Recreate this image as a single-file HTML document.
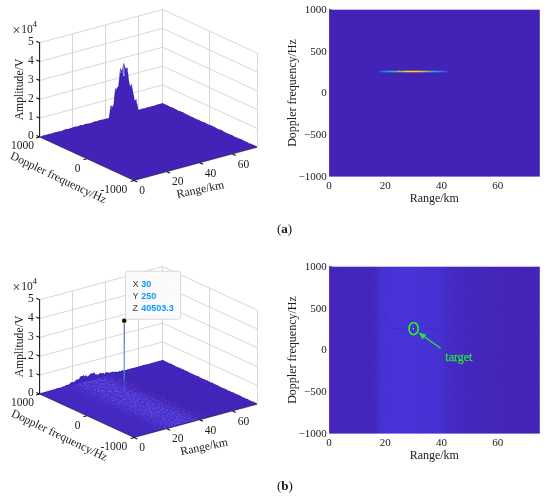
<!DOCTYPE html>
<html><head><meta charset="utf-8"><title>Figure</title>
<style>html,body{margin:0;padding:0;background:#fff}svg{display:block}text{font-family:"Liberation Serif","Times New Roman",serif}.ss text{font-family:"Liberation Sans",Arial,sans-serif}</style>
</head><body>
<svg width="550" height="500" viewBox="0 0 550 500">
<rect width="550" height="500" fill="#fff"/>
<defs>
<linearGradient id="ln" x1="0" x2="1" y1="0" y2="0">
<stop offset="0" stop-color="#3c50e0"/><stop offset="0.05" stop-color="#2a6ae8"/><stop offset="0.11" stop-color="#2090e0"/><stop offset="0.17" stop-color="#1fb0d0"/><stop offset="0.26" stop-color="#30c0b0"/><stop offset="0.285" stop-color="#c8b840"/><stop offset="0.3" stop-color="#f0a838"/><stop offset="0.325" stop-color="#70c878"/><stop offset="0.345" stop-color="#80c868"/><stop offset="0.37" stop-color="#f6cc2c"/><stop offset="0.5" stop-color="#fbd826"/><stop offset="0.63" stop-color="#f6c42e"/><stop offset="0.66" stop-color="#70c878"/><stop offset="0.685" stop-color="#c0b848"/><stop offset="0.705" stop-color="#f0a838"/><stop offset="0.73" stop-color="#40c0a0"/><stop offset="0.8" stop-color="#1fb0d0"/><stop offset="0.87" stop-color="#2090e0"/><stop offset="0.95" stop-color="#2a6ae8"/><stop offset="1" stop-color="#3c50e0"/>
</linearGradient>
<linearGradient id="bg2" x1="0" x2="1" y1="0" y2="0">
<stop offset="0" stop-color="#4224ba"/><stop offset="0.2" stop-color="#4225bb"/><stop offset="0.225" stop-color="#4328c0"/><stop offset="0.245" stop-color="#4530d0"/><stop offset="0.3" stop-color="#4632d7"/><stop offset="0.42" stop-color="#4631d5"/><stop offset="0.52" stop-color="#452fd0"/><stop offset="0.56" stop-color="#442bc7"/><stop offset="0.61" stop-color="#4327be"/><stop offset="0.75" stop-color="#4324b9"/><stop offset="1" stop-color="#4322b6"/>
</linearGradient>
<linearGradient id="fl" x1="0" x2="0" y1="0" y2="1"><stop offset="0" stop-color="#4324ba"/><stop offset="1" stop-color="#4122b4"/></linearGradient>
<linearGradient id="band" gradientUnits="userSpaceOnUse" x1="134.1" y1="180.5" x2="168.22" y2="106.39">
<stop offset="0" stop-color="#4630d6" stop-opacity="0.28"/><stop offset="0.2" stop-color="#4630d6" stop-opacity="0.3"/><stop offset="0.27" stop-color="#4630d6" stop-opacity="0.42"/><stop offset="0.34" stop-color="#4630d6" stop-opacity="0.72"/><stop offset="0.46" stop-color="#4630d6" stop-opacity="0.72"/><stop offset="0.52" stop-color="#4630d6" stop-opacity="0.3"/><stop offset="0.56" stop-color="#3a1ea8" stop-opacity="0.35"/><stop offset="0.64" stop-color="#3a1ea8" stop-opacity="0.4"/><stop offset="0.72" stop-color="#3a1ea8" stop-opacity="0.1"/><stop offset="0.8" stop-color="#4630d6" stop-opacity="0.05"/><stop offset="1" stop-color="#4630d6" stop-opacity="0.05"/>
</linearGradient>
<linearGradient id="bandm" gradientUnits="userSpaceOnUse" x1="134.1" y1="180.5" x2="168.22" y2="106.39">
<stop offset="0" stop-color="#222"/><stop offset="0.22" stop-color="#333"/><stop offset="0.33" stop-color="#fff"/><stop offset="0.48" stop-color="#fff"/><stop offset="0.63" stop-color="#444"/><stop offset="0.8" stop-color="#111"/><stop offset="1" stop-color="#111"/>
</linearGradient>
<mask id="bm" maskUnits="userSpaceOnUse" x="0" y="80" width="275" height="120"><polygon points="39.6,137 162.6,103.8 257.1,147.3 134.1,180.5" fill="url(#bandm)"/></mask>
<filter id="nz3" x="0" y="0" width="1" height="1"><feTurbulence type="fractalNoise" baseFrequency="0.55 0.9" numOctaves="2" seed="11"/><feColorMatrix type="matrix" values="0 0 0 0 0.34  0 0 0 0 0.28  0 0 0 0 0.95  0.9 0 0 0 -0.33"/><feGaussianBlur stdDeviation="0.45"/></filter>
<linearGradient id="spk" x1="0" x2="0" y1="0" y2="1"><stop offset="0" stop-color="#5a45d6"/><stop offset="0.35" stop-color="#5566dd"/><stop offset="0.65" stop-color="#4a86e2"/><stop offset="0.88" stop-color="#2ea6d8"/><stop offset="1" stop-color="#3f6fd8"/></linearGradient>
<filter id="nz" x="0" y="0" width="1" height="1"><feTurbulence type="fractalNoise" baseFrequency="0.9" numOctaves="2" seed="3" result="t"/><feColorMatrix type="matrix" values="0 0 0 0 0.32  0 0 0 0 0.25  0 0 0 0 0.95  0.55 0 0 0 -0.22"/></filter>
</defs>
<g transform="translate(0,0)">
<g fill="none" stroke="#cdcdcd" stroke-width="0.8"><polyline points="39.6,137 162.6,103.8 257.1,147.3"/><polyline points="39.6,118.15 162.6,84.95 257.1,128.45"/><polyline points="39.6,99.3 162.6,66.1 257.1,109.6"/><polyline points="39.6,80.45 162.6,47.25 257.1,90.75"/><polyline points="39.6,61.6 162.6,28.4 257.1,71.9"/><polyline points="39.6,42.75 162.6,9.55 257.1,53.05"/><line x1="72.5" y1="128.15" x2="72.5" y2="33.9"/><line x1="105.5" y1="119.29" x2="105.5" y2="25.04"/><line x1="138.5" y1="110.44" x2="138.5" y2="16.19"/><line x1="162.5" y1="103.8" x2="162.5" y2="9.55"/><line x1="209.5" y1="125.55" x2="209.5" y2="31.3"/><line x1="257.5" y1="147.3" x2="257.5" y2="53.05"/></g>
<polygon points="39.6,137 39.6,136.57 41.65,136.14 43.7,135.24 45.75,135.09 47.8,134.21 49.85,133.78 51.9,133.44 53.95,132.57 56,132.35 58.05,131.52 60.1,131.22 62.15,130.65 64.2,129.86 66.25,129.03 68.3,128.97 70.35,128.34 72.4,127.51 74.45,126.73 76.5,126.44 78.55,126.01 80.6,125.05 82.65,125.15 84.7,124.03 86.75,123.87 88.8,123.42 90.85,122.88 92.9,122.2 94.95,121.29 97,121.18 99.05,120.35 101.1,119.75 103.15,119.39 105.2,118.71 107.25,118.5 109.3,117.94 111.35,117.29 113.4,116.4 115.45,116.03 117.5,115.55 119.55,114.81 121.6,114.35 123.65,113.9 125.7,113 127.75,112.52 129.8,112.28 131.85,111.5 133.9,110.98 135.95,110.18 138,109.73 140.05,109.49 142.1,108.45 144.15,108.5 146.2,107.73 148.25,106.94 150.3,106.81 152.35,106.02 154.4,105.79 156.45,104.79 158.5,104.17 160.55,103.75 162.6,102.99 164.18,104.11 165.75,104.56 167.33,105.36 168.9,106.09 170.48,106.91 172.05,107.36 173.63,108.01 175.2,109.07 176.78,109.66 178.35,110.81 179.93,111.08 181.5,111.85 183.08,112.33 184.65,113.17 186.23,114.28 187.8,114.93 189.38,115.46 190.95,116.63 192.53,117.05 194.1,117.98 195.68,118.74 197.25,119.51 198.83,119.74 200.4,120.91 201.98,121.55 203.55,122.18 205.13,122.57 206.7,123.84 208.28,124.31 209.85,124.97 211.43,125.46 213,126.23 214.58,126.92 216.15,128.06 217.73,128.68 219.3,129.45 220.88,129.81 222.45,130.48 224.03,131.77 225.6,132.48 227.18,133.16 228.75,133.89 230.33,134.44 231.9,135.09 233.48,136.04 235.05,136.95 236.63,137.38 238.2,138.14 239.78,138.73 241.35,139.18 242.93,140.09 244.5,140.94 246.08,141.59 247.65,142.28 249.23,143.44 250.8,143.57 252.38,144.38 253.95,145.04 255.53,145.82 257.1,146.83 257.1,147.3 134.1,180.5" fill="#4323b7"/>
<polygon points="108.8,118.6 109.7,112.1 110.4,106.3 111,105.2 111.7,106.2 112.3,106.9 113.6,104.4 114.5,94 115.3,88.1 116.2,89.6 117.1,87.5 118.2,86.8 119.2,78.4 120.1,68.6 120.5,68 121.4,70.8 122.3,69.3 123.1,64.7 123.8,62.8 124.7,65.4 126,68.8 127.3,67.3 127.9,70.6 128.8,79.7 130.1,86.2 131.8,83.8 132.5,88.8 133.5,94 134.8,100.4 136.4,99.2 137.4,104.4 138.3,109.5 138.3,128 108.8,128" fill="#4323b7"/>
<polygon points="123.0,76 123.8,62.6 124.6,76" fill="#b2abe6"/>
<polygon points="122.6,70 123.8,63.2 125,70" fill="#8f86d8" opacity="0.7"/>
<polygon points="119.9,73 120.5,68 121.1,73" fill="#7a78d8"/>
<polygon points="126.7,72.3 127.3,67.3 127.9,72.3" fill="#7a78d8"/>
<polygon points="114.7,92.1 115.3,88.1 115.9,92.1" fill="#7a78d8"/>
<polygon points="131.2,87.8 131.8,83.8 132.4,87.8" fill="#7a78d8"/>
<polygon points="110.4,109.2 111,105.2 111.6,109.2" fill="#7a78d8"/>
<polygon points="135.8,103.2 136.4,99.2 137,103.2" fill="#7a78d8"/>
<polygon points="121.7,73.3 122.3,69.3 122.9,73.3" fill="#7a78d8"/>
<g fill="none" stroke="#111" stroke-width="1.05"><polyline points="39.6,42.75 39.6,137"/><polyline points="39.6,137 134.1,180.5 257.1,147.3" stroke-width="0.55"/><line x1="39.6" y1="137" x2="36.33" y2="135.49"/><line x1="39.6" y1="118.15" x2="36.33" y2="116.64"/><line x1="39.6" y1="99.3" x2="36.33" y2="97.79"/><line x1="39.6" y1="80.45" x2="36.33" y2="78.94"/><line x1="39.6" y1="61.6" x2="36.33" y2="60.09"/><line x1="39.6" y1="42.75" x2="36.33" y2="41.24"/><line x1="39.6" y1="137" x2="36.12" y2="137.94"/><line x1="86.85" y1="158.75" x2="83.37" y2="159.69"/><line x1="134.1" y1="180.5" x2="130.62" y2="181.44"/><line x1="134.1" y1="180.5" x2="137.37" y2="182.01"/><line x1="166.9" y1="171.65" x2="170.17" y2="173.15"/><line x1="199.7" y1="162.79" x2="202.97" y2="164.3"/><line x1="232.5" y1="153.94" x2="235.77" y2="155.45"/></g>
<g font-size="11.5" fill="#202020"><text x="33.7" y="139.2" text-anchor="end">0</text><text x="33.7" y="120.35" text-anchor="end">1</text><text x="33.7" y="101.5" text-anchor="end">2</text><text x="33.7" y="82.65" text-anchor="end">3</text><text x="33.7" y="63.8" text-anchor="end">4</text><text x="33.7" y="44.95" text-anchor="end">5</text><text x="12.6" y="35" font-size="14">×</text><text x="21.3" y="32.6">10</text><text x="32.4" y="27.3" font-size="9">4</text><text x="22.6" y="149.3" text-anchor="middle">1000</text><text x="77.6" y="171.5" text-anchor="middle">0</text><text x="127.3" y="192.7" text-anchor="end">-1000</text><text x="142.2" y="193.8" text-anchor="middle">0</text><text x="177.8" y="185.4" text-anchor="middle">20</text><text x="210.4" y="176.8" text-anchor="middle">40</text><text x="243.4" y="167.8" text-anchor="middle">60</text></g>
<g font-size="11.7" fill="#202020"><text transform="translate(23,89.5) rotate(-90)" text-anchor="middle">Amplitude/V</text><text transform="translate(56.9,180.9) rotate(25.5)" text-anchor="middle">Doppler frequency/Hz</text><text transform="translate(201.1,193) rotate(-12)" text-anchor="middle">Range/km</text></g>
</g>
<g transform="translate(0,0)">
<rect x="329.1" y="9.7" width="210.7" height="166.9" fill="#4323b7"/>
<rect x="379" y="70.7" width="68.2" height="1.6" fill="url(#ln)"/>
<line x1="329.1" y1="9.4" x2="331.6" y2="9.4" stroke="#222" stroke-width="0.7"/>
<g font-size="11" fill="#202020"><text x="326.8" y="12.9" text-anchor="end">1000</text><text x="326.8" y="54.62" text-anchor="end">500</text><text x="326.8" y="96.35" text-anchor="end">0</text><text x="326.8" y="138.07" text-anchor="end">−500</text><text x="326.8" y="179.8" text-anchor="end">−1000</text><text x="329.1" y="189" text-anchor="middle">0</text><text x="385.29" y="189" text-anchor="middle">20</text><text x="441.47" y="189" text-anchor="middle">40</text><text x="497.66" y="189" text-anchor="middle">60</text></g>
<g font-size="12" fill="#202020"><text x="434.3" y="202.2" text-anchor="middle">Range/km</text><text transform="translate(296.3,93) rotate(-90)" text-anchor="middle">Doppler frequency/Hz</text></g>
<text x="277" y="233" font-size="13" fill="#111">(<tspan font-weight="bold">a</tspan>)</text>
</g>
<g transform="translate(0,257)">
<g fill="none" stroke="#cdcdcd" stroke-width="0.8"><polyline points="39.6,137 162.6,103.8 257.1,147.3"/><polyline points="39.6,118.15 162.6,84.95 257.1,128.45"/><polyline points="39.6,99.3 162.6,66.1 257.1,109.6"/><polyline points="39.6,80.45 162.6,47.25 257.1,90.75"/><polyline points="39.6,61.6 162.6,28.4 257.1,71.9"/><polyline points="39.6,42.75 162.6,9.55 257.1,53.05"/><line x1="72.5" y1="128.15" x2="72.5" y2="33.9"/><line x1="105.5" y1="119.29" x2="105.5" y2="25.04"/><line x1="138.5" y1="110.44" x2="138.5" y2="16.19"/><line x1="162.5" y1="103.8" x2="162.5" y2="9.55"/><line x1="209.5" y1="125.55" x2="209.5" y2="31.3"/><line x1="257.5" y1="147.3" x2="257.5" y2="53.05"/></g>
<polygon points="39.6,137 39.6,136.22 40.42,136.12 41.24,135.68 42.06,135.7 42.88,135.47 43.7,135.19 44.52,134.99 45.34,134.69 46.16,134.59 46.98,134.4 47.8,134.11 48.62,133.9 49.44,133.57 50.26,133.49 51.08,132.9 51.9,132.79 52.72,132.76 53.54,132.49 54.36,132.22 55.18,131.98 56,131.86 56.82,131.29 57.64,130.97 58.46,130.98 59.28,130.72 60.1,130.67 60.92,130.41 61.74,130.01 62.56,129.78 63.38,129.14 64.2,129.28 65.02,129.08 65.84,128.07 66.66,128.06 67.48,128.05 68.3,127.32 69.12,127.48 69.94,126.56 70.76,125.59 71.58,125.27 72.4,125.03 73.22,125.25 74.04,124.64 74.86,124.55 75.68,122.93 76.5,122.92 77.32,121.88 78.14,122.43 78.96,122.24 79.78,120.28 80.6,119.32 81.42,119.21 82.24,118.9 83.06,118.44 83.88,118.3 84.7,119.56 85.52,118.34 86.34,118.59 87.16,119.4 87.98,119.2 88.8,118.2 89.62,118.11 90.44,116.63 91.26,115.74 92.08,117.21 92.9,115.74 93.72,115.6 94.54,115.7 95.36,117.26 96.18,117.58 97,117.51 97.82,117.52 98.64,117.43 99.46,116.47 100.28,115.85 101.1,115.93 101.92,116.54 102.74,116.13 103.56,115.77 104.38,116.9 105.2,115.8 106.02,115.29 106.84,115.38 107.66,115.33 108.48,115.62 109.3,115.93 110.12,114.99 110.94,115.49 111.76,114.82 112.58,114.55 113.4,115.11 114.22,115.01 115.04,114.39 115.86,114.52 116.68,114.88 117.5,114.78 118.32,114.63 119.14,113.98 119.96,113.92 120.78,114.16 121.6,113.62 122.42,113.37 123.24,113.37 124.06,113.33 124.88,113.04 125.7,113.04 126.52,112.88 127.34,112.25 128.16,112.18 128.98,112.02 129.8,111.64 130.62,111.64 131.44,111.23 132.26,111.03 133.08,111.07 133.9,110.83 134.72,110.59 135.54,110.39 136.36,110.02 137.18,109.94 138,109.65 138.82,109.55 139.64,109 140.46,109.01 141.28,108.75 142.1,108.47 142.92,108.12 143.74,108.1 144.56,107.67 145.38,107.62 146.2,107.39 147.02,107.17 147.84,107.16 148.66,106.76 149.48,106.65 150.3,106.51 151.12,105.95 151.94,105.99 152.76,105.64 153.58,105.31 154.4,105.16 155.22,105.04 156.04,104.74 156.86,104.5 157.68,104.18 158.5,104.25 159.32,103.84 160.14,103.75 160.96,103.51 161.78,103.08 162.6,102.97 163.23,103.29 163.86,103.43 164.49,103.6 165.12,104.25 165.75,104.41 166.38,104.78 167.01,105.07 167.64,105.22 168.27,105.69 168.9,105.92 169.53,106.25 170.16,106.19 170.79,106.67 171.42,106.82 172.05,107.06 172.68,107.87 173.31,107.93 173.94,107.93 174.57,108.3 175.2,109.12 175.83,109.42 176.46,109.47 177.09,110.04 177.72,110.2 178.35,110.62 178.98,110.46 179.61,110.66 180.24,110.87 180.87,111.72 181.5,111.58 182.13,111.92 182.76,112.6 183.39,112.33 184.02,112.55 184.65,113.41 185.28,113.14 185.91,113.85 186.54,114.08 187.17,113.99 187.8,114.4 188.43,115.19 189.06,115.28 189.69,115.5 190.32,115.93 190.95,116.33 191.58,116.52 192.21,116.51 192.84,117.33 193.47,117.22 194.1,117.59 194.73,118.2 195.36,118.25 195.99,118.32 196.62,118.7 197.25,119.32 197.88,118.92 198.51,119.36 199.14,119.51 199.77,120.45 200.4,120.62 201.03,121.08 201.66,120.82 202.29,121.49 202.92,121.89 203.55,121.95 204.18,121.88 204.81,122.24 205.44,122.95 206.07,123.32 206.7,123.03 207.33,123.58 207.96,123.77 208.59,124.53 209.22,124.84 209.85,124.65 210.48,125.14 211.11,125.7 211.74,125.34 212.37,125.85 213,126.02 213.63,126.85 214.26,126.56 214.89,127.44 215.52,127.13 216.15,127.73 216.78,128.11 217.41,128.24 218.04,128.24 218.67,129.03 219.3,129.43 219.93,129.42 220.56,129.92 221.19,130.31 221.82,130.56 222.45,130.94 223.08,131.11 223.71,131.32 224.34,131.61 224.97,131.56 225.6,132.2 226.23,132.34 226.86,132.87 227.49,133.03 228.12,133.57 228.75,133.68 229.38,134.15 230.01,133.9 230.64,134.33 231.27,134.89 231.9,134.97 232.53,134.91 233.16,135.82 233.79,135.58 234.42,136.16 235.05,136.4 235.68,136.43 236.31,137.06 236.94,137.26 237.57,137.41 238.2,137.48 238.83,138.25 239.46,138.18 240.09,138.56 240.72,138.9 241.35,139.37 241.98,139.7 242.61,140.21 243.24,140.45 243.87,140.78 244.5,140.56 245.13,141.22 245.76,141.58 246.39,141.93 247.02,141.65 247.65,141.92 248.28,142.36 248.91,142.94 249.54,143.26 250.17,143.51 250.8,143.68 251.43,144.19 252.06,144.27 252.69,144.69 253.32,144.46 253.95,144.74 254.58,145.35 255.21,145.87 255.84,145.61 256.47,146.4 257.1,146.65 257.1,147.3 134.1,180.5" fill="url(#fl)"/>
<polygon points="39.6,137 162.6,103.8 257.1,147.3 134.1,180.5" fill="url(#band)"/>
<rect x="35" y="95" width="230" height="95" fill="#000" filter="url(#nz3)" mask="url(#bm)"/>
<rect x="123.69" y="63.69" width="1.1" height="60.81" fill="url(#spk)"/>
<rect x="123.59" y="124.5" width="1.3" height="10" fill="#5a66e0" opacity="0.45"/>
<g fill="none" stroke="#111" stroke-width="1.05"><polyline points="39.6,42.75 39.6,137"/><polyline points="39.6,137 134.1,180.5 257.1,147.3" stroke-width="0.55"/><line x1="39.6" y1="137" x2="36.33" y2="135.49"/><line x1="39.6" y1="118.15" x2="36.33" y2="116.64"/><line x1="39.6" y1="99.3" x2="36.33" y2="97.79"/><line x1="39.6" y1="80.45" x2="36.33" y2="78.94"/><line x1="39.6" y1="61.6" x2="36.33" y2="60.09"/><line x1="39.6" y1="42.75" x2="36.33" y2="41.24"/><line x1="39.6" y1="137" x2="36.12" y2="137.94"/><line x1="86.85" y1="158.75" x2="83.37" y2="159.69"/><line x1="134.1" y1="180.5" x2="130.62" y2="181.44"/><line x1="134.1" y1="180.5" x2="137.37" y2="182.01"/><line x1="166.9" y1="171.65" x2="170.17" y2="173.15"/><line x1="199.7" y1="162.79" x2="202.97" y2="164.3"/><line x1="232.5" y1="153.94" x2="235.77" y2="155.45"/></g>
<g font-size="11.5" fill="#202020"><text x="33.7" y="139.2" text-anchor="end">0</text><text x="33.7" y="120.35" text-anchor="end">1</text><text x="33.7" y="101.5" text-anchor="end">2</text><text x="33.7" y="82.65" text-anchor="end">3</text><text x="33.7" y="63.8" text-anchor="end">4</text><text x="33.7" y="44.95" text-anchor="end">5</text><text x="12.6" y="35" font-size="14">×</text><text x="21.3" y="32.6">10</text><text x="32.4" y="27.3" font-size="9">4</text><text x="22.6" y="149.3" text-anchor="middle">1000</text><text x="77.6" y="171.5" text-anchor="middle">0</text><text x="127.3" y="192.7" text-anchor="end">-1000</text><text x="142.2" y="193.8" text-anchor="middle">0</text><text x="177.8" y="185.4" text-anchor="middle">20</text><text x="210.4" y="176.8" text-anchor="middle">40</text><text x="243.4" y="167.8" text-anchor="middle">60</text></g>
<g font-size="11.7" fill="#202020"><text transform="translate(23,89.5) rotate(-90)" text-anchor="middle">Amplitude/V</text><text transform="translate(57.9,181.5) rotate(25.5)" text-anchor="middle">Doppler frequency/Hz</text><text transform="translate(204.8,193.3) rotate(-12)" text-anchor="middle">Range/km</text></g>
<circle cx="124.24" cy="63.69" r="3.1" fill="#f4eebc"/><circle cx="124.24" cy="63.69" r="2.2" fill="#111"/>
<rect x="125.6" y="14.2" width="55" height="48" rx="2" ry="2" fill="#fbfbfd" fill-opacity="0.95" stroke="#cfcfcf" stroke-width="0.8"/>
<g class="ss" font-size="9" fill="#404040">
<text x="132.4" y="30.3">X<tspan x="141.3" font-weight="bold" fill="#0a9bf7">30</tspan></text>
<text x="132.4" y="42.2">Y<tspan x="141.3" font-weight="bold" fill="#0a9bf7">250</tspan></text>
<text x="132.4" y="54.1">Z<tspan x="141.3" font-weight="bold" fill="#0a9bf7">40503.3</tspan></text>
</g>
</g>
<g transform="translate(0,257)">
<rect x="329.1" y="9.7" width="210.7" height="166.9" fill="url(#bg2)"/>
<rect x="329.1" y="9.7" width="210.7" height="166.9" fill="#000" filter="url(#nz)" opacity="0.25"/>
<line x1="392" y1="71.3" x2="442" y2="71.3" stroke="#3a1fa0" stroke-width="0.7" stroke-dasharray="7 4" opacity="0.6"/>
<circle cx="413.4" cy="71.6" r="0.8" fill="#e8d060"/>
<ellipse cx="413.6" cy="71.6" rx="4.6" ry="6.0" fill="none" stroke="#22e636" stroke-width="1.8"/>
<line x1="440.6" y1="91.3" x2="422" y2="78" stroke="#22e636" stroke-width="1.4"/>
<polygon points="418.4,75.4 426.2,77.4 422.6,82.4" fill="#22e636"/>
<text x="445.3" y="104" font-size="12" fill="#22e636" stroke="#22e636" stroke-width="0.25">target</text>
<line x1="329.1" y1="9.4" x2="331.6" y2="9.4" stroke="#222" stroke-width="0.7"/>
<g font-size="11" fill="#202020"><text x="326.8" y="12.9" text-anchor="end">1000</text><text x="326.8" y="54.62" text-anchor="end">500</text><text x="326.8" y="96.35" text-anchor="end">0</text><text x="326.8" y="138.07" text-anchor="end">−500</text><text x="326.8" y="179.8" text-anchor="end">−1000</text><text x="329.1" y="189" text-anchor="middle">0</text><text x="385.29" y="189" text-anchor="middle">20</text><text x="441.47" y="189" text-anchor="middle">40</text><text x="497.66" y="189" text-anchor="middle">60</text></g>
<g font-size="12" fill="#202020"><text x="434.3" y="202.2" text-anchor="middle">Range/km</text><text transform="translate(296.3,93) rotate(-90)" text-anchor="middle">Doppler frequency/Hz</text></g>
<text x="277" y="233" font-size="13" fill="#111">(<tspan font-weight="bold">b</tspan>)</text>
</g>
</svg>
</body></html>
